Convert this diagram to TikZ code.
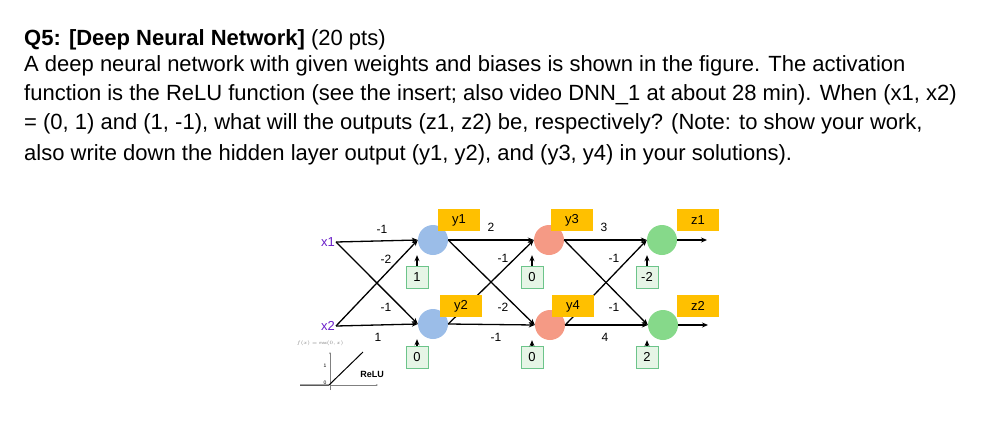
\documentclass[tikz,border=0pt]{standalone}
\usepackage{fontspec}
\setmainfont{Liberation Sans}
\usetikzlibrary{arrows.meta}
\definecolor{nblue}{HTML}{9BBDE8}
\definecolor{nred}{HTML}{F59A85}
\definecolor{ngreen}{HTML}{86D98A}
\definecolor{ylw}{HTML}{FFC000}
\definecolor{bfill}{HTML}{E6F5E6}
\definecolor{bdraw}{HTML}{6CC48A}
\definecolor{purp}{HTML}{6A1FC9}
\begin{document}
\begin{tikzpicture}[x=1pt,y=-1pt,
  txt/.style={anchor=west,inner sep=0pt,font=\fontsize{22}{22}\selectfont},
  neu/.style={circle,minimum size=30pt,inner sep=0pt},
  lab/.style={fill=ylw,minimum width=42pt,minimum height=22pt,inner sep=0pt,font=\fontsize{13}{13}\selectfont},
  bias/.style={fill=bfill,draw=bdraw,line width=1pt,minimum width=22pt,minimum height=22pt,inner sep=0pt,font=\fontsize{13}{13}\selectfont},
  w/.style={font=\fontsize{12}{12}\selectfont,inner sep=0pt},
  ar/.style={-{Stealth[length=6pt,width=5pt]},line width=1.3pt}]
\useasboundingbox (0,0) rectangle (982,434);
\node[txt] (t0) at (24,40) {\textbf{Q5: [Deep Neural Network]} (20 pts)};
\node[txt] (t1) at (24,66) {A deep neural network with given weights and biases is shown in the figure. The activation};
\node[txt] (t2) at (24,95) {function is the ReLU function (see the insert; also video DNN\_1 at about 28 min). When (x1, x2)};
\node[txt] (t3) at (24,124) {= (0, 1) and (1, -1), what will the outputs (z1, z2) be, respectively? (Note: to show your work,};
\node[txt] (t4) at (24,155) {also write down the hidden layer output (y1, y2), and (y3, y4) in your solutions).};

\node[text=purp,font=\fontsize{13}{13}\selectfont,anchor=east,inner sep=1pt] (x1) at (336,242) {x1};
\node[text=purp,font=\fontsize{13}{13}\selectfont,anchor=east,inner sep=1pt] (x2) at (336,326) {x2};
\node[neu,fill=nblue] (a1) at (433,240) {};
\node[neu,fill=nblue] (a2) at (433,324) {};
\node[neu,fill=nred] (b1) at (549,240) {};
\node[neu,fill=nred] (b2) at (550,325) {};
\node[neu,fill=ngreen] (c1) at (662,240) {};
\node[neu,fill=ngreen] (c2) at (663,325) {};
\node[bias] (p1) at (417,277) {1};
\node[bias] (p2) at (417,357) {0};
\node[bias] (q1) at (532,277) {0};
\node[bias] (q2) at (532,357) {0};
\node[bias] (r1) at (647,277) {-2};
\node[bias] (r2) at (647,357) {2};
\coordinate (o1) at (707,240);
\coordinate (o2) at (708,325);

\draw[ar] (x1.east) -- (a1.west);
\draw[ar] (x1.east) -- (a2.west);
\draw[ar] (x2.east) -- (a1.west);
\draw[ar] (x2.east) -- (a2.west);
\draw[ar] (a1.east) -- (b1.west);
\draw[ar] (a1.east) -- (b2.west);
\draw[ar] (a2.east) -- (b1.west);
\draw[ar] (a2.east) -- (b2.west);
\draw[ar] (b1.east) -- (c1.west);
\draw[ar] (b1.east) -- (c2.west);
\draw[ar] (b2.east) -- (c1.west);
\draw[ar] (b2.east) -- (c2.west);
\draw[ar] (c1.east) -- (o1);
\draw[ar] (c2.east) -- (o2);
\draw[ar] (p1.north) -- (p1.north |- a1.south);
\draw[ar] (p2.north) -- (p2.north |- a2.south);
\draw[ar] (q1.north) -- (q1.north |- b1.south);
\draw[ar] (q2.north) -- (q2.north |- b2.south);
\draw[ar] (r1.north) -- (r1.north |- c1.south);
\draw[ar] (r2.north) -- (r2.north |- c2.south);

\node[lab] (y1) at (459,220) {y1};
\node[lab] (y2) at (461,306) {y2};
\node[lab] (y3) at (572,220) {y3};
\node[lab] (y4) at (573,306) {y4};
\node[lab] (z1) at (698,220) {z1};
\node[lab] (z2) at (698,306) {z2};

\node[w] (w1) at (382,229) {-1};
\node[w] (w2) at (386,259) {-2};
\node[w] (w3) at (386,307) {-1};
\node[w] (w4) at (378,337) {1};
\node[w] (w5) at (491,227) {2};
\node[w] (w6) at (503,258) {-1};
\node[w] (w7) at (503,307) {-2};
\node[w] (w8) at (496,337) {-1};
\node[w] (w9) at (604,227) {3};
\node[w] (w10) at (614,258) {-1};
\node[w] (w11) at (614,307) {-1};
\node[w] (w12) at (605,337) {4};

% ReLU inset
\coordinate (h0) at (300,385); \coordinate (h1) at (378,385);
\coordinate (v0) at (330,390); \coordinate (v1) at (330,352);
\draw[line width=0.4pt,gray,-{Stealth[length=2pt]}] (v0) -- (v1);
\draw[line width=0.4pt,gray,-{Stealth[length=2pt]}] (330,385) -- (h1);
\draw[line width=1pt] (h0) -- (329,385) -- (363,352);
\node[font=\fontsize{4}{4}\selectfont,gray,inner sep=0pt] (fx) at (320,343) {$f(x)=\max(0,x)$};
\node[font=\fontsize{5}{5}\selectfont,inner sep=0pt] (one) at (325,366) {1};
\node[font=\fontsize{5}{5}\selectfont,inner sep=0pt] (zero) at (325,383) {0};
\node[font=\bfseries\fontsize{9}{9}\selectfont,inner sep=0pt] (relu) at (372,374) {ReLU};
\end{tikzpicture}
\end{document}
